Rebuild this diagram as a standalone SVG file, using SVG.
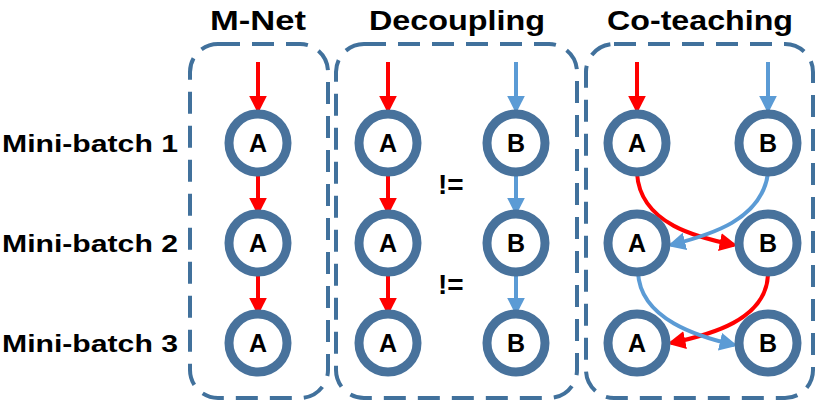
<svg xmlns="http://www.w3.org/2000/svg" width="822" height="407" viewBox="0 0 822 407">
<style>
.box{fill:none;stroke:#41719c;stroke-width:4;stroke-dasharray:22 12}
.n circle{fill:#fff;stroke:#48729c;stroke-width:9}
.n text,.t,.l{font-family:"Liberation Sans",Arial,sans-serif;font-weight:bold;fill:#000}
.n text{font-size:25px;text-anchor:middle}
.t{font-size:28px;text-anchor:middle}
.l{font-size:24px}
.r{fill:none;stroke:#ff0000;stroke-width:4}
.b{fill:none;stroke:#5b9bd5;stroke-width:4}
</style>
<defs>
<marker id="ar" viewBox="0 0 10 10" refX="8" refY="5" markerWidth="4.5" markerHeight="4.5" orient="auto" markerUnits="strokeWidth"><path d="M0,0L10,5L0,10z" fill="#ff0000"/></marker>
<marker id="ab" viewBox="0 0 10 10" refX="8" refY="5" markerWidth="4.5" markerHeight="4.5" orient="auto" markerUnits="strokeWidth"><path d="M0,0L10,5L0,10z" fill="#5b9bd5"/></marker>
</defs>
<text class="t" x="258" y="30" textLength="96" lengthAdjust="spacingAndGlyphs">M-Net</text>
<text class="t" x="457" y="30" textLength="176" lengthAdjust="spacingAndGlyphs">Decoupling</text>
<text class="t" x="700" y="30" textLength="186" lengthAdjust="spacingAndGlyphs">Co-teaching</text>
<text class="l" x="2" y="152" textLength="176" lengthAdjust="spacingAndGlyphs">Mini-batch 1</text>
<text class="l" x="2" y="252" textLength="176" lengthAdjust="spacingAndGlyphs">Mini-batch 2</text>
<text class="l" x="2" y="352" textLength="176" lengthAdjust="spacingAndGlyphs">Mini-batch 3</text>
<rect class="box" x="190" y="44" width="138" height="354" rx="28"/>
<rect class="box" x="336" y="44" width="241" height="354" rx="28"/>
<rect class="box" x="586" y="44" width="227" height="354" rx="28"/>
<text class="l" x="438" y="194" style="font-size:28px">!=</text>
<text class="l" x="438" y="294" style="font-size:28px">!=</text>
<g id="connectors">
<path class="r" d="M258,62V110" marker-end="url(#ar)"/>
<path class="r" d="M258,172V212" marker-end="url(#ar)"/>
<path class="r" d="M258,272V312" marker-end="url(#ar)"/>
<path class="r" d="M388,62V110" marker-end="url(#ar)"/>
<path class="r" d="M388,172V212" marker-end="url(#ar)"/>
<path class="r" d="M388,272V312" marker-end="url(#ar)"/>
<path class="b" d="M516,62V110" marker-end="url(#ab)"/>
<path class="b" d="M516,172V212" marker-end="url(#ab)"/>
<path class="b" d="M516,272V312" marker-end="url(#ab)"/>
<path class="r" d="M637,62V110" marker-end="url(#ar)"/>
<path class="b" d="M768,62V110" marker-end="url(#ab)"/>
<path class="r" d="M637,173C640,225 700,238 734,245" marker-end="url(#ar)"/>
<path class="b" d="M768,173C762,220 710,235 671,245" marker-end="url(#ab)"/>
<path class="r" d="M768,275C766,320 710,335 671,343" marker-end="url(#ar)"/>
<path class="b" d="M638,272C640,320 700,337 734,345" marker-end="url(#ab)"/>
</g>
<g id="n1" class="n"><circle cx="258" cy="143" r="29"/><text x="258" y="152">A</text></g>
<g id="n2" class="n"><circle cx="258" cy="243" r="29"/><text x="258" y="252">A</text></g>
<g id="n3" class="n"><circle cx="258" cy="343" r="29"/><text x="258" y="352">A</text></g>
<g id="d1" class="n"><circle cx="388" cy="143" r="29"/><text x="388" y="152">A</text></g>
<g id="d2" class="n"><circle cx="388" cy="243" r="29"/><text x="388" y="252">A</text></g>
<g id="d3" class="n"><circle cx="388" cy="343" r="29"/><text x="388" y="352">A</text></g>
<g id="d4" class="n"><circle cx="516" cy="143" r="29"/><text x="516" y="152">B</text></g>
<g id="d5" class="n"><circle cx="516" cy="243" r="29"/><text x="516" y="252">B</text></g>
<g id="d6" class="n"><circle cx="516" cy="343" r="29"/><text x="516" y="352">B</text></g>
<g id="c1" class="n"><circle cx="637" cy="143" r="29"/><text x="637" y="152">A</text></g>
<g id="c2" class="n"><circle cx="637" cy="243" r="29"/><text x="637" y="252">A</text></g>
<g id="c3" class="n"><circle cx="637" cy="343" r="29"/><text x="637" y="352">A</text></g>
<g id="c4" class="n"><circle cx="768" cy="143" r="29"/><text x="768" y="152">B</text></g>
<g id="c5" class="n"><circle cx="768" cy="243" r="29"/><text x="768" y="252">B</text></g>
<g id="c6" class="n"><circle cx="768" cy="343" r="29"/><text x="768" y="352">B</text></g>
</svg>
